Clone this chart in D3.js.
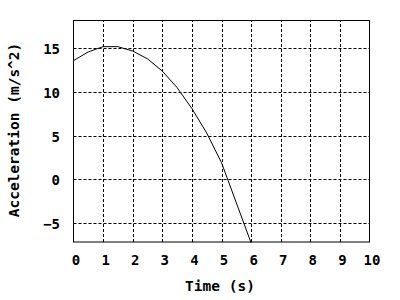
<!DOCTYPE html>
<html>
<head>
<meta charset="utf-8">
<script src="https://cdn.jsdelivr.net/npm/d3@7"></script>
<style>
  body { margin: 0; background: #fff; }
  text { font-family: 'DejaVu Sans Mono', monospace; font-weight: bold; fill: #000; }
</style>
</head>
<body>
<svg id="chart" width="400" height="300"></svg>
<script>
// values
const time = [0, 0.5, 1, 1.5, 2, 2.5, 3, 3.5, 4, 4.5, 5, 5.5, 6]
const accel = [13.6, 14.6, 15.2, 15.2, 14.7, 13.8, 12.4, 10.5, 8.1, 5.3, 1.9, -2.7, -7.3]
const xTicks = [0, 1, 2, 3, 4, 5, 6, 7, 8, 9, 10]
const yTicks = [-5, 0, 5, 10, 15]

const svg = d3.select('#chart')
const margins = { top: 20.5, right: 30.5, bottom: 58, left: 73.5 }
const width = 400
const height = 300

const x = d3.scaleLinear().domain([0, 10]).range([margins.left, width - margins.right])
const y = d3.scaleLinear().domain([-7.2, 18.2]).range([height - margins.bottom, margins.top])

// dotted grid
const grid = svg.append('g')
  .attr('stroke', '#000')
  .attr('stroke-width', 1)
  .attr('stroke-dasharray', '3,2')

grid.selectAll('.vx')
  .data(xTicks.slice(1, -1))
  .join('line')
  .attr('x1', d => Math.round(x(d)) + 0.5)
  .attr('x2', d => Math.round(x(d)) + 0.5)
  .attr('y1', y.range()[0])
  .attr('y2', y.range()[1])

grid.selectAll('.hy')
  .data(yTicks)
  .join('line')
  .attr('x1', x.range()[0])
  .attr('x2', x.range()[1])
  .attr('y1', d => Math.round(y(d)) + 0.5)
  .attr('y2', d => Math.round(y(d)) + 0.5)

// axes (labels only, gnuplot style)
const xAxis = d3.axisBottom(x).tickValues(xTicks).tickSize(0).tickPadding(0)
const yAxis = d3.axisLeft(y).tickValues(yTicks).tickSize(0).tickPadding(0)

const gx = svg.append('g')
  .attr('transform', `translate(2, ${y.range()[0] + 23})`)
  .call(xAxis)
gx.select('.domain').remove()
gx.selectAll('text').style('font-size', '14px').attr('dy', 0)

const gy = svg.append('g')
  .attr('transform', `translate(60, 0.5)`)
  .call(yAxis)
gy.select('.domain').remove()
gy.selectAll('text').style('font-size', '14px').attr('dy', '0.35em')

// curve
const line = d3.line()
  .x((d, i) => x(time[i]))
  .y(d => y(d))

svg.append('path')
  .attr('d', line(accel))
  .attr('fill', 'none')
  .attr('stroke', '#000')
  .attr('stroke-width', 1)

// border
svg.append('rect')
  .attr('x', x.range()[0])
  .attr('y', y.range()[1])
  .attr('width', x.range()[1] - x.range()[0])
  .attr('height', y.range()[0] - y.range()[1])
  .attr('fill', 'none')
  .attr('stroke', '#000')
  .attr('stroke-width', 1)

// axis titles
svg.append('text')
  .attr('x', 220)
  .attr('y', 291)
  .attr('text-anchor', 'middle')
  .style('font-size', '14.5px')
  .text('Time (s)')

svg.append('text')
  .attr('transform', 'translate(19, 130) rotate(-90)')
  .attr('text-anchor', 'middle')
  .style('font-size', '14.5px')
  .text('Acceleration (m/s^2)')
</script>
</body>
</html>
